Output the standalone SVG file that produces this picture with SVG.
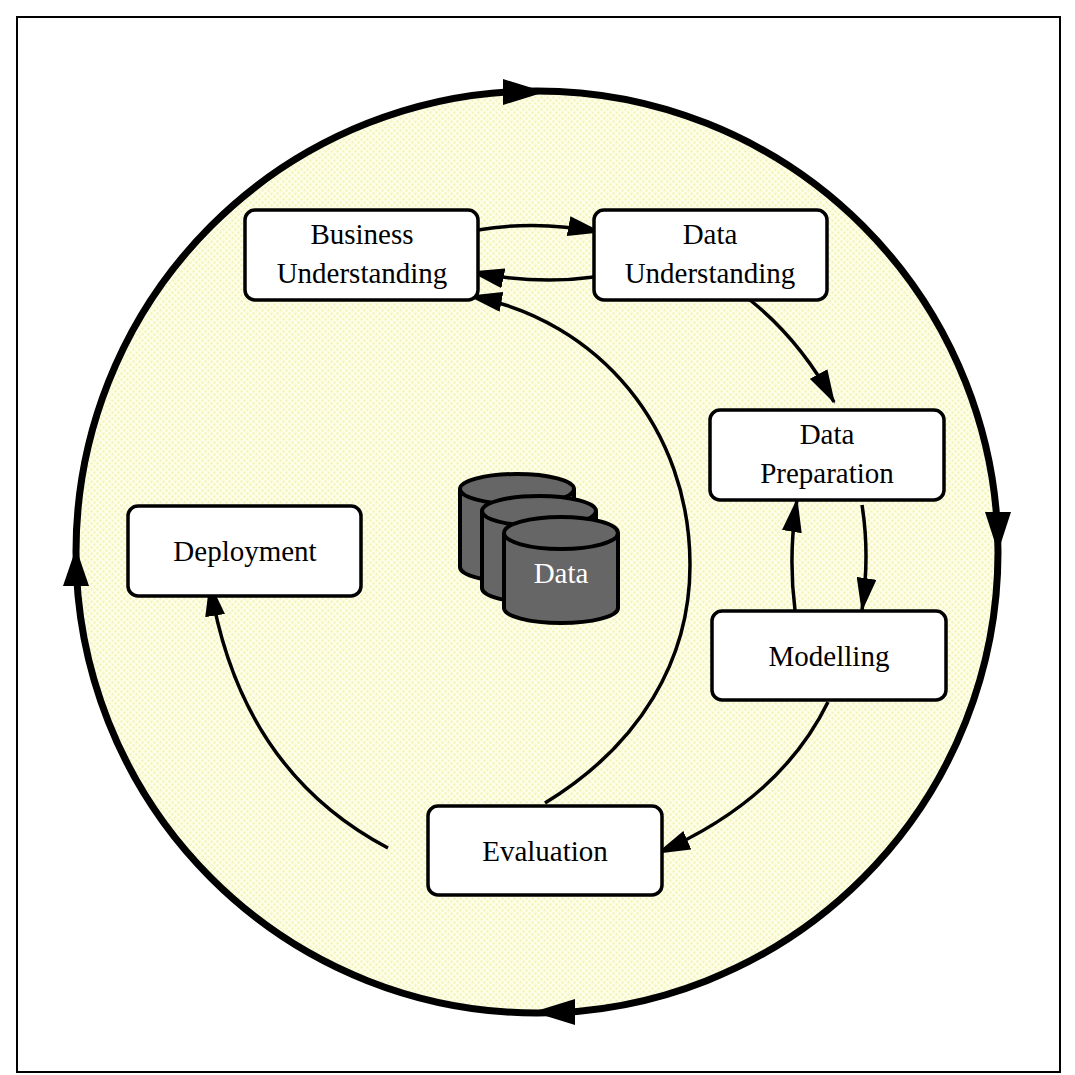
<svg xmlns="http://www.w3.org/2000/svg" width="1075" height="1075" viewBox="0 0 1075 1075">
<defs>
<marker id="ah" viewBox="0 0 34 20" refX="32" refY="10" markerWidth="34" markerHeight="20" markerUnits="userSpaceOnUse" orient="auto"><path d="M0,0 L34,10 L0,20 Z" fill="#000"/></marker>
<pattern id="dots" width="6" height="6" patternUnits="userSpaceOnUse"><rect width="6" height="6" fill="#fdfde8"/><circle cx="1.5" cy="1.5" r="1.2" fill="#f4f4b8"/><circle cx="4.5" cy="4.5" r="1.2" fill="#f4f4b8"/></pattern>
</defs>
<style>
.box{fill:#fff;stroke:#000;stroke-width:3.5}
.t{font-family:"Liberation Serif","Times New Roman",serif;font-size:29px;fill:#000;text-anchor:middle}
.c{fill:none;stroke:#000;stroke-width:3.5;marker-end:url(#ah)}
.cyl{fill:#666;stroke:#000;stroke-width:4}
</style>
<rect x="0" y="0" width="1075" height="1075" fill="#fff"/>
<rect x="17" y="17" width="1043" height="1055" fill="none" stroke="#000" stroke-width="2"/>
<g id="cycle">
<circle cx="537" cy="552" r="461" fill="url(#dots)" stroke="#000" stroke-width="7"/>
<path d="M545,92 l-42,-13 l0,26 z" fill="#000"/>
<path d="M998,552 l-13,-40 l26,0 z" fill="#000"/>
<path d="M533,1012 l42,-13 l0,26 z" fill="#000"/>
<path d="M76,548 l-13,38 l26,0 z" fill="#000"/>
</g>
<g id="connectors">
<path class="c" d="M478,230 Q536,220 600,232"/>
<path class="c" d="M594,277 Q536,285 472,272"/>
<path class="c" d="M750,300 Q800,340 834,402"/>
<path class="c" d="M862,505 Q870,555 862,610"/>
<path class="c" d="M795,610 Q788,555 797,500"/>
<path class="c" d="M828,702 Q780,800 658,853"/>
<path class="c" d="M388,848 Q240,770 210,584"/>
<path class="c" d="M545,803 C640,745 690,660 690,565 C690,430 600,320 470,296"/>
</g>
<g id="bu"><rect class="box" x="245" y="210" width="233" height="90" rx="10"/><text class="t" x="362" y="244">Business</text><text class="t" x="362" y="283">Understanding</text></g>
<g id="du"><rect class="box" x="594" y="210" width="233" height="90" rx="10"/><text class="t" x="710" y="244">Data</text><text class="t" x="710" y="283">Understanding</text></g>
<g id="dp"><rect class="box" x="710" y="410" width="234" height="90" rx="10"/><text class="t" x="827" y="444">Data</text><text class="t" x="827" y="483">Preparation</text></g>
<g id="dep"><rect class="box" x="128" y="506" width="233" height="90" rx="10"/><text class="t" x="245" y="561">Deployment</text></g>
<g id="mod"><rect class="box" x="712" y="611" width="234" height="89" rx="10"/><text class="t" x="829" y="666">Modelling</text></g>
<g id="ev"><rect class="box" x="428" y="806" width="234" height="89" rx="10"/><text class="t" x="545" y="861">Evaluation</text></g>
<g id="data">
<path class="cyl" d="M460,489 L460,567 A57,15 0 0 0 574,567 L574,489"/><ellipse class="cyl" cx="517" cy="489" rx="57" ry="15"/>
<path class="cyl" d="M482,511 L482,588 A57,15 0 0 0 596,588 L596,511"/><ellipse class="cyl" cx="539" cy="511" rx="57" ry="15"/>
<path class="cyl" d="M504,533 L504,608 A57,15 0 0 0 618,608 L618,533"/><ellipse class="cyl" cx="561" cy="533" rx="57" ry="16"/>
<text class="t" x="561" y="583" style="fill:#fff">Data</text>
</g>
</svg>
